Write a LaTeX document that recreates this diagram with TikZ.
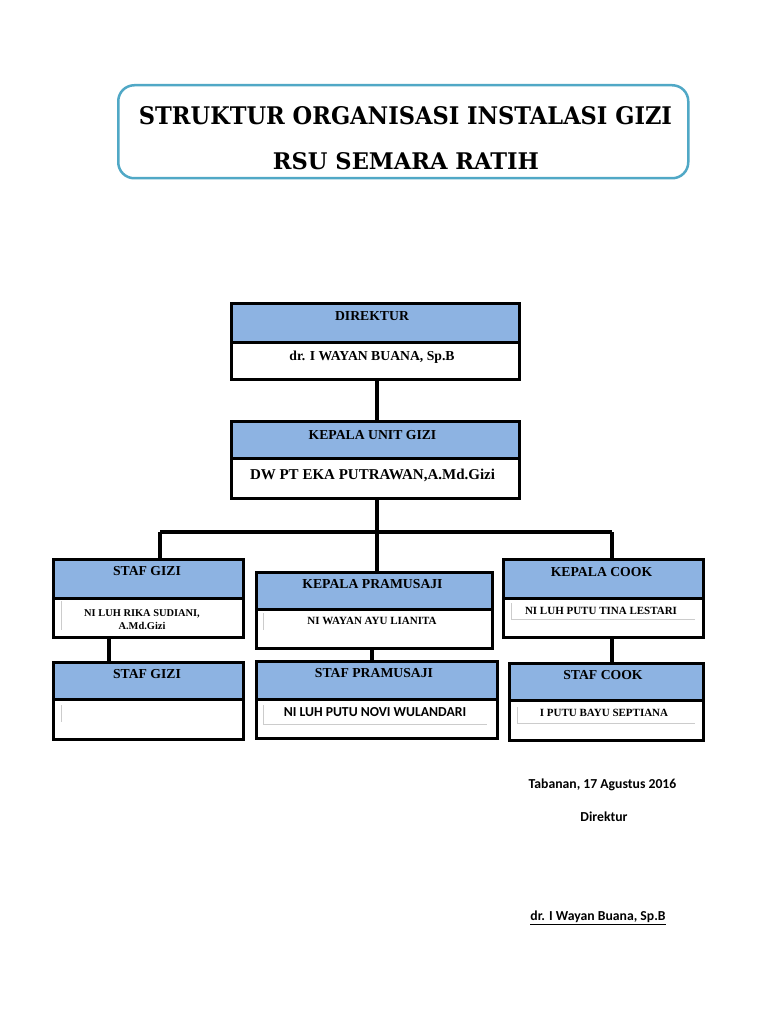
\documentclass[tikz,border=0pt]{standalone}
\usepackage{fontspec}
\setmainfont{Liberation Serif}
\newfontfamily\calfont{Carlito}
\newfontfamily\titlefont{DejaVu Serif}
\definecolor{hdrblue}{RGB}{141,179,226}
\definecolor{titleblue}{RGB}{80,168,198}
\tikzset{
  boxshape/.style={draw=black, line width=2.5pt, inner sep=0pt, anchor=north west, rectangle},
  hdr/.style={boxshape, fill=hdrblue},
  bodybox/.style={boxshape, fill=white},
  txt/.style={inner sep=0pt, text height=0.66em, text depth=0pt, anchor=center},
  hdrtxt/.style={txt, font=\fontsize{13.7}{15}\selectfont\bfseries},
  smalltxt/.style={txt, font=\fontsize{11}{12}\selectfont\bfseries},
  caltxt/.style={inner sep=0pt, text height=0.64em, text depth=0pt, anchor=center, font=\calfont\fontsize{13.7}{15}\selectfont\bfseries},
  conn/.style={line width=4.5pt},
  faint/.style={draw=gray!40, line width=0.6pt}
}
\begin{document}
\begin{tikzpicture}[x=1pt,y=-1pt]
\useasboundingbox (0,0) rectangle (768,1024);
\fill[white] (0,0) rectangle (768,1024);

% title
\node[draw=titleblue, line width=2.5pt, rounded corners=16pt, minimum width=570pt, minimum height=93pt, anchor=north west, inner sep=0pt] (tbox) at (117,84) {};
\node[inner sep=0pt, anchor=center] (t1) at (405.5,116) {\resizebox{533pt}{18pt}{\titlefont\bfseries STRUKTUR ORGANISASI INSTALASI GIZI}};
\node[inner sep=0pt, anchor=center] (t2) at (406,161.5) {\resizebox{266pt}{17pt}{\titlefont\bfseries RSU SEMARA RATIH}};

% DIREKTUR
\node[hdr, minimum width=288pt, minimum height=39pt] (dirH) at (230,302) {};
\node[bodybox, minimum width=288pt, minimum height=37pt] (dirB) at (230,341) {};
\node[hdrtxt] (dirHt) at (372,317) {DIREKTUR};
\node[hdrtxt] (dirBt) at (372,357) {dr. I WAYAN BUANA, Sp.B};

% KEPALA UNIT GIZI
\node[hdr, minimum width=288pt, minimum height=37pt] (kuH) at (230,420) {};
\node[bodybox, minimum width=288pt, minimum height=40pt] (kuB) at (230,457) {};
\node[hdrtxt] (kuHt) at (372.5,436) {KEPALA UNIT GIZI};
\node[txt, font=\fontsize{15}{16}\selectfont\bfseries] (kuBt) at (372.5,476) {DW PT EKA PUTRAWAN,A.Md.Gizi};

% STAF GIZI 1
\node[hdr, minimum width=190pt, minimum height=39pt] (sg1H) at (52,558) {};
\node[bodybox, minimum width=190pt, minimum height=39pt] (sg1B) at (52,597) {};
\node[hdrtxt] (sg1Ht) at (147,572.5) {STAF GIZI};
\node[txt, font=\fontsize{10.4}{12}\selectfont\bfseries] (sg1Bt1) at (142,613) {NI LUH RIKA SUDIANI,};
\node[txt, font=\fontsize{10.4}{12}\selectfont\bfseries] (sg1Bt2) at (142,626) {A.Md.Gizi};
\draw[faint] (61,601) -- (61,630);

% STAF GIZI 2
\node[hdr, minimum width=190pt, minimum height=37pt] (sg2H) at (52,661) {};
\node[bodybox, minimum width=190pt, minimum height=40pt] (sg2B) at (52,698) {};
\node[hdrtxt] (sg2Ht) at (147,675) {STAF GIZI};
\draw[faint] (61,705) -- (61,722);

% KEPALA PRAMUSAJI
\node[hdr, minimum width=236pt, minimum height=37pt] (kpH) at (255,571) {};
\node[bodybox, minimum width=236pt, minimum height=39pt] (kpB) at (255,608) {};
\node[hdrtxt] (kpHt) at (372.5,585) {KEPALA PRAMUSAJI};
\node[smalltxt] (kpBt) at (372,621.5) {NI WAYAN AYU LIANITA};
\draw[faint] (263,613) -- (263,630);

% STAF PRAMUSAJI
\node[hdr, minimum width=241pt, minimum height=38pt] (spH) at (255,660) {};
\node[bodybox, minimum width=241pt, minimum height=39pt] (spB) at (255,698) {};
\node[hdrtxt] (spHt) at (374,674) {STAF PRAMUSAJI};
\node[caltxt] (spBt) at (375,713) {NI LUH PUTU NOVI WULANDARI};
\draw[faint] (263,705) -- (263,724) -- (487,724);

% KEPALA COOK
\node[hdr, minimum width=200pt, minimum height=39pt] (kcH) at (502,558) {};
\node[bodybox, minimum width=200pt, minimum height=39pt] (kcB) at (502,597) {};
\node[hdrtxt] (kcHt) at (601.5,573) {KEPALA COOK};
\node[smalltxt] (kcBt) at (601,611) {NI LUH PUTU TINA LESTARI};
\draw[faint] (511,603) -- (511,619) -- (695,619);

% STAF COOK
\node[hdr, minimum width=194pt, minimum height=37pt] (scH) at (508,662) {};
\node[bodybox, minimum width=194pt, minimum height=40pt] (scB) at (508,699) {};
\node[hdrtxt] (scHt) at (603,676) {STAF COOK};
\node[smalltxt] (scBt) at (604,713.5) {I PUTU BAYU SEPTIANA};
\draw[faint] (517,707) -- (517,723) -- (695,723);

% connectors
\coordinate (busL) at (160,532);
\coordinate (busM) at (377,532);
\coordinate (busR) at (612,532);
\draw[conn] (busM |- dirB.south) -- (busM |- kuH.north);
\draw[conn] (busM |- kuB.south) -- (busM);
\draw[conn] (busL) -- (busR);
\draw[conn] (busL) -- (busL |- sg1H.north);
\draw[conn] (busM) -- (busM |- kpH.north);
\draw[conn] (busR) -- (busR |- kcH.north);
\coordinate (c1) at (109,0);
\coordinate (c2) at (372,0);
\coordinate (c3) at (612,0);
\draw[conn] (c1 |- sg1B.south) -- (c1 |- sg2H.north);
\draw[conn] (c2 |- kpB.south) -- (c2 |- spH.north);
\draw[conn] (c3 |- kcB.south) -- (c3 |- scH.north);

% signature
\node[caltxt] (place) at (602.5,785) {Tabanan, 17 Agustus 2016};
\node[caltxt] (role) at (604,818) {Direktur};
\node[caltxt] (sign) at (598,917) {\underline{dr. I Wayan Buana, Sp.B}};
\end{tikzpicture}
\end{document}
